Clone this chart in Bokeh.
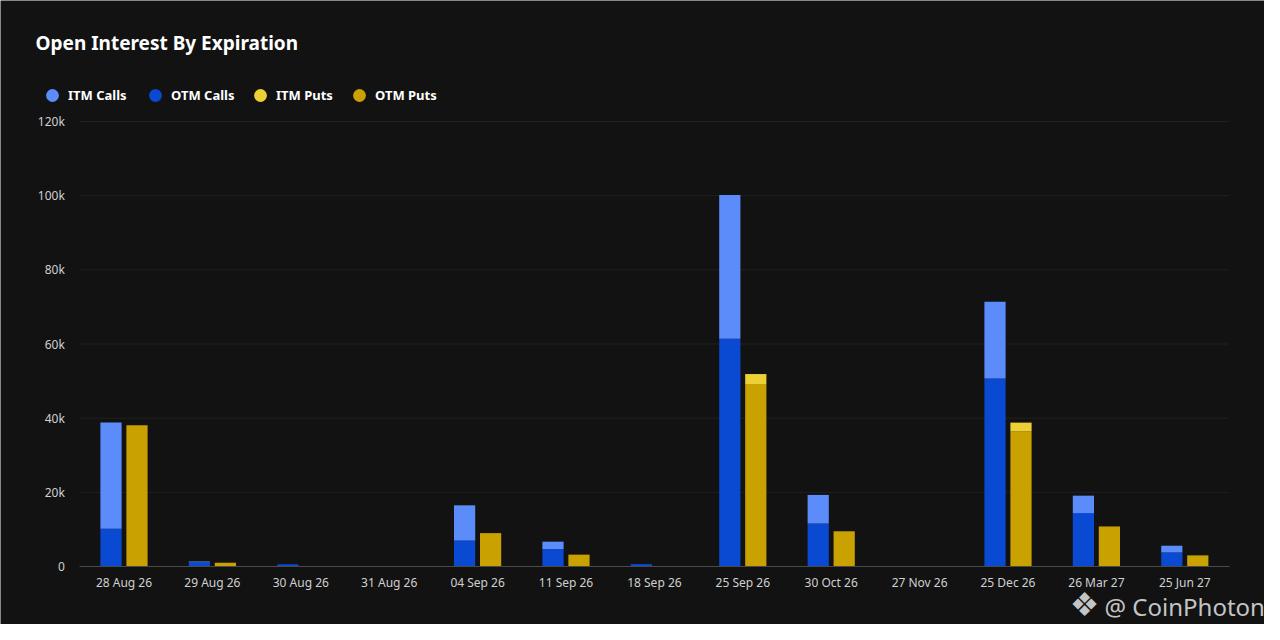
from bokeh.plotting import figure
from bokeh.models import (ColumnDataSource, FixedTicker, Legend, LegendItem, Label)
from bokeh.embed import file_html
from bokeh.resources import INLINE

dates = ["28 Aug 26", "29 Aug 26", "30 Aug 26", "31 Aug 26", "04 Sep 26", "11 Sep 26",
         "18 Sep 26", "25 Sep 26", "30 Oct 26", "27 Nov 26", "25 Dec 26", "26 Mar 27", "25 Jun 27"]
otm_calls = [10200, 1150, 600, 0, 7000, 4700, 650, 61400, 11600, 0, 50700, 14400, 3800]
itm_calls = [28600, 200, 0, 0, 9500, 2000, 0, 38800, 7700, 0, 20700, 4700, 1800]
otm_puts = [38100, 1000, 0, 0, 9000, 3200, 0, 49200, 9500, 0, 36400, 10800, 3000]
itm_puts = [0, 0, 0, 0, 0, 0, 0, 2700, 0, 0, 2400, 0, 0]
y_ticks = [0, 20000, 40000, 60000, 80000, 100000, 120000]
y_tick_labels = ["0", "20k", "40k", "60k", "80k", "100k", "120k"]
series_names = ["ITM Calls", "OTM Calls", "ITM Puts", "OTM Puts"]

C_ITM_CALL = "#5b8cfa"
C_OTM_CALL = "#0a49d1"
C_ITM_PUT = "#ecd035"
C_OTM_PUT = "#c9a100"
series_colors = [C_ITM_CALL, C_OTM_CALL, C_ITM_PUT, C_OTM_PUT]
BG = "#121212"
FONT = "Noto Sans"

W_PX, H_PX = 1264, 624
PX_PER_CAT = 88.4
CAT0_PX = 123.5
ZERO_PX = 566
PX_PER_UNIT_Y = 445 / 120000

idx = list(range(len(dates)))
n = len(dates)
OFF = 0.147
W = 0.24
src = ColumnDataSource(dict(
    xc=[i - OFF for i in idx],
    xp=[i + OFF for i in idx],
    otm_c=otm_calls,
    top_c=[a + b for a, b in zip(otm_calls, itm_calls)],
    otm_p=otm_puts,
    top_p=[a + b for a, b in zip(otm_puts, itm_puts)],
    zero=[0] * n,
))

x_start = -CAT0_PX / PX_PER_CAT
x_end = (W_PX - CAT0_PX) / PX_PER_CAT
y_end = ZERO_PX / PX_PER_UNIT_Y
y_start = -(H_PX - ZERO_PX) / PX_PER_UNIT_Y

p = figure(width=W_PX, height=H_PX, output_backend="svg", toolbar_location=None,
           x_range=(x_start, x_end), y_range=(y_start, y_end),
           background_fill_color=BG, border_fill_color=BG,
           min_border_left=0, min_border_right=0, min_border_bottom=0, min_border_top=0)
p.outline_line_color = None
p.xgrid.grid_line_color = None
p.ygrid.grid_line_color = None

# horizontal grid lines at the y ticks, spanning the category area
grid_src = ColumnDataSource(dict(y=y_ticks[1:], x0=[-0.5] * (len(y_ticks) - 1),
                                 x1=[n - 0.5] * (len(y_ticks) - 1)))
p.segment(x0="x0", x1="x1", y0="y", y1="y", source=grid_src,
          line_color="#202020", line_width=1)

p.vbar(x="xc", width=W, bottom="zero", top="otm_c", source=src,
       fill_color=C_OTM_CALL, line_color=None)
p.vbar(x="xc", width=W, bottom="otm_c", top="top_c", source=src,
       fill_color=C_ITM_CALL, line_color=None)
p.vbar(x="xp", width=W, bottom="zero", top="otm_p", source=src,
       fill_color=C_OTM_PUT, line_color=None)
p.vbar(x="xp", width=W, bottom="otm_p", top="top_p", source=src,
       fill_color=C_ITM_PUT, line_color=None)

# axes drawn at fixed data locations inside the frame
p.xaxis.fixed_location = 0
p.xaxis.bounds = (-0.5, n - 0.5)
p.yaxis.fixed_location = -0.5
p.xaxis.ticker = FixedTicker(ticks=idx)
p.xaxis.major_label_overrides = {i: d for i, d in enumerate(dates)}
p.yaxis.ticker = FixedTicker(ticks=y_ticks)
p.yaxis.major_label_overrides = {v: l for v, l in zip(y_ticks, y_tick_labels)}
for ax in (p.xaxis, p.yaxis):
    ax.major_label_text_color = "#d0d0d0"
    ax.major_label_text_font = FONT
    ax.major_label_text_font_size = "12px"
    ax.major_tick_line_color = None
    ax.minor_tick_line_color = None
    ax.major_tick_out = 0
    ax.major_tick_in = 0
p.xaxis.axis_line_color = "#4a4a4a"
p.yaxis.axis_line_color = None
p.xaxis.major_label_standoff = 7
p.yaxis.major_label_standoff = 15

# legend: one small legend per series (circle swatches)
leg_x = [36, 139, 244, 343]
for name, col, lx in zip(series_names, series_colors, leg_x):
    r = p.scatter(x=[0], y=[-1e9], marker="circle", size=13, fill_color=col, line_color=None)
    lg = Legend(items=[LegendItem(label=name, renderers=[r])], location=(lx, 513),
                orientation="horizontal", background_fill_alpha=0, border_line_color=None,
                label_text_color="#ffffff", label_text_font=FONT,
                label_text_font_style="bold", label_text_font_size="13px",
                glyph_width=32, glyph_height=32, label_standoff=0,
                padding=0, margin=0, spacing=0)
    p.add_layout(lg)

p.add_layout(Label(x=35, y=582, x_units="screen", y_units="screen",
                   text="Open Interest By Expiration", text_color="#ffffff",
                   text_font=FONT, text_font_style="bold", text_font_size="19px",
                   text_baseline="middle"))

# watermark
p.add_layout(Label(x=1084, y=20, x_units="screen", y_units="screen", text="\u2756",
                   text_color="#c4c4c4", text_font="DejaVu Sans", text_font_size="33px",
                   text_align="center", text_baseline="middle"))
p.add_layout(Label(x=1104, y=18, x_units="screen", y_units="screen", text="@ CoinPhoton",
                   text_color="#c4c4c4", text_font=FONT, text_font_size="24px",
                   text_baseline="middle"))

open("out.html", "w").write(file_html(p, INLINE))
